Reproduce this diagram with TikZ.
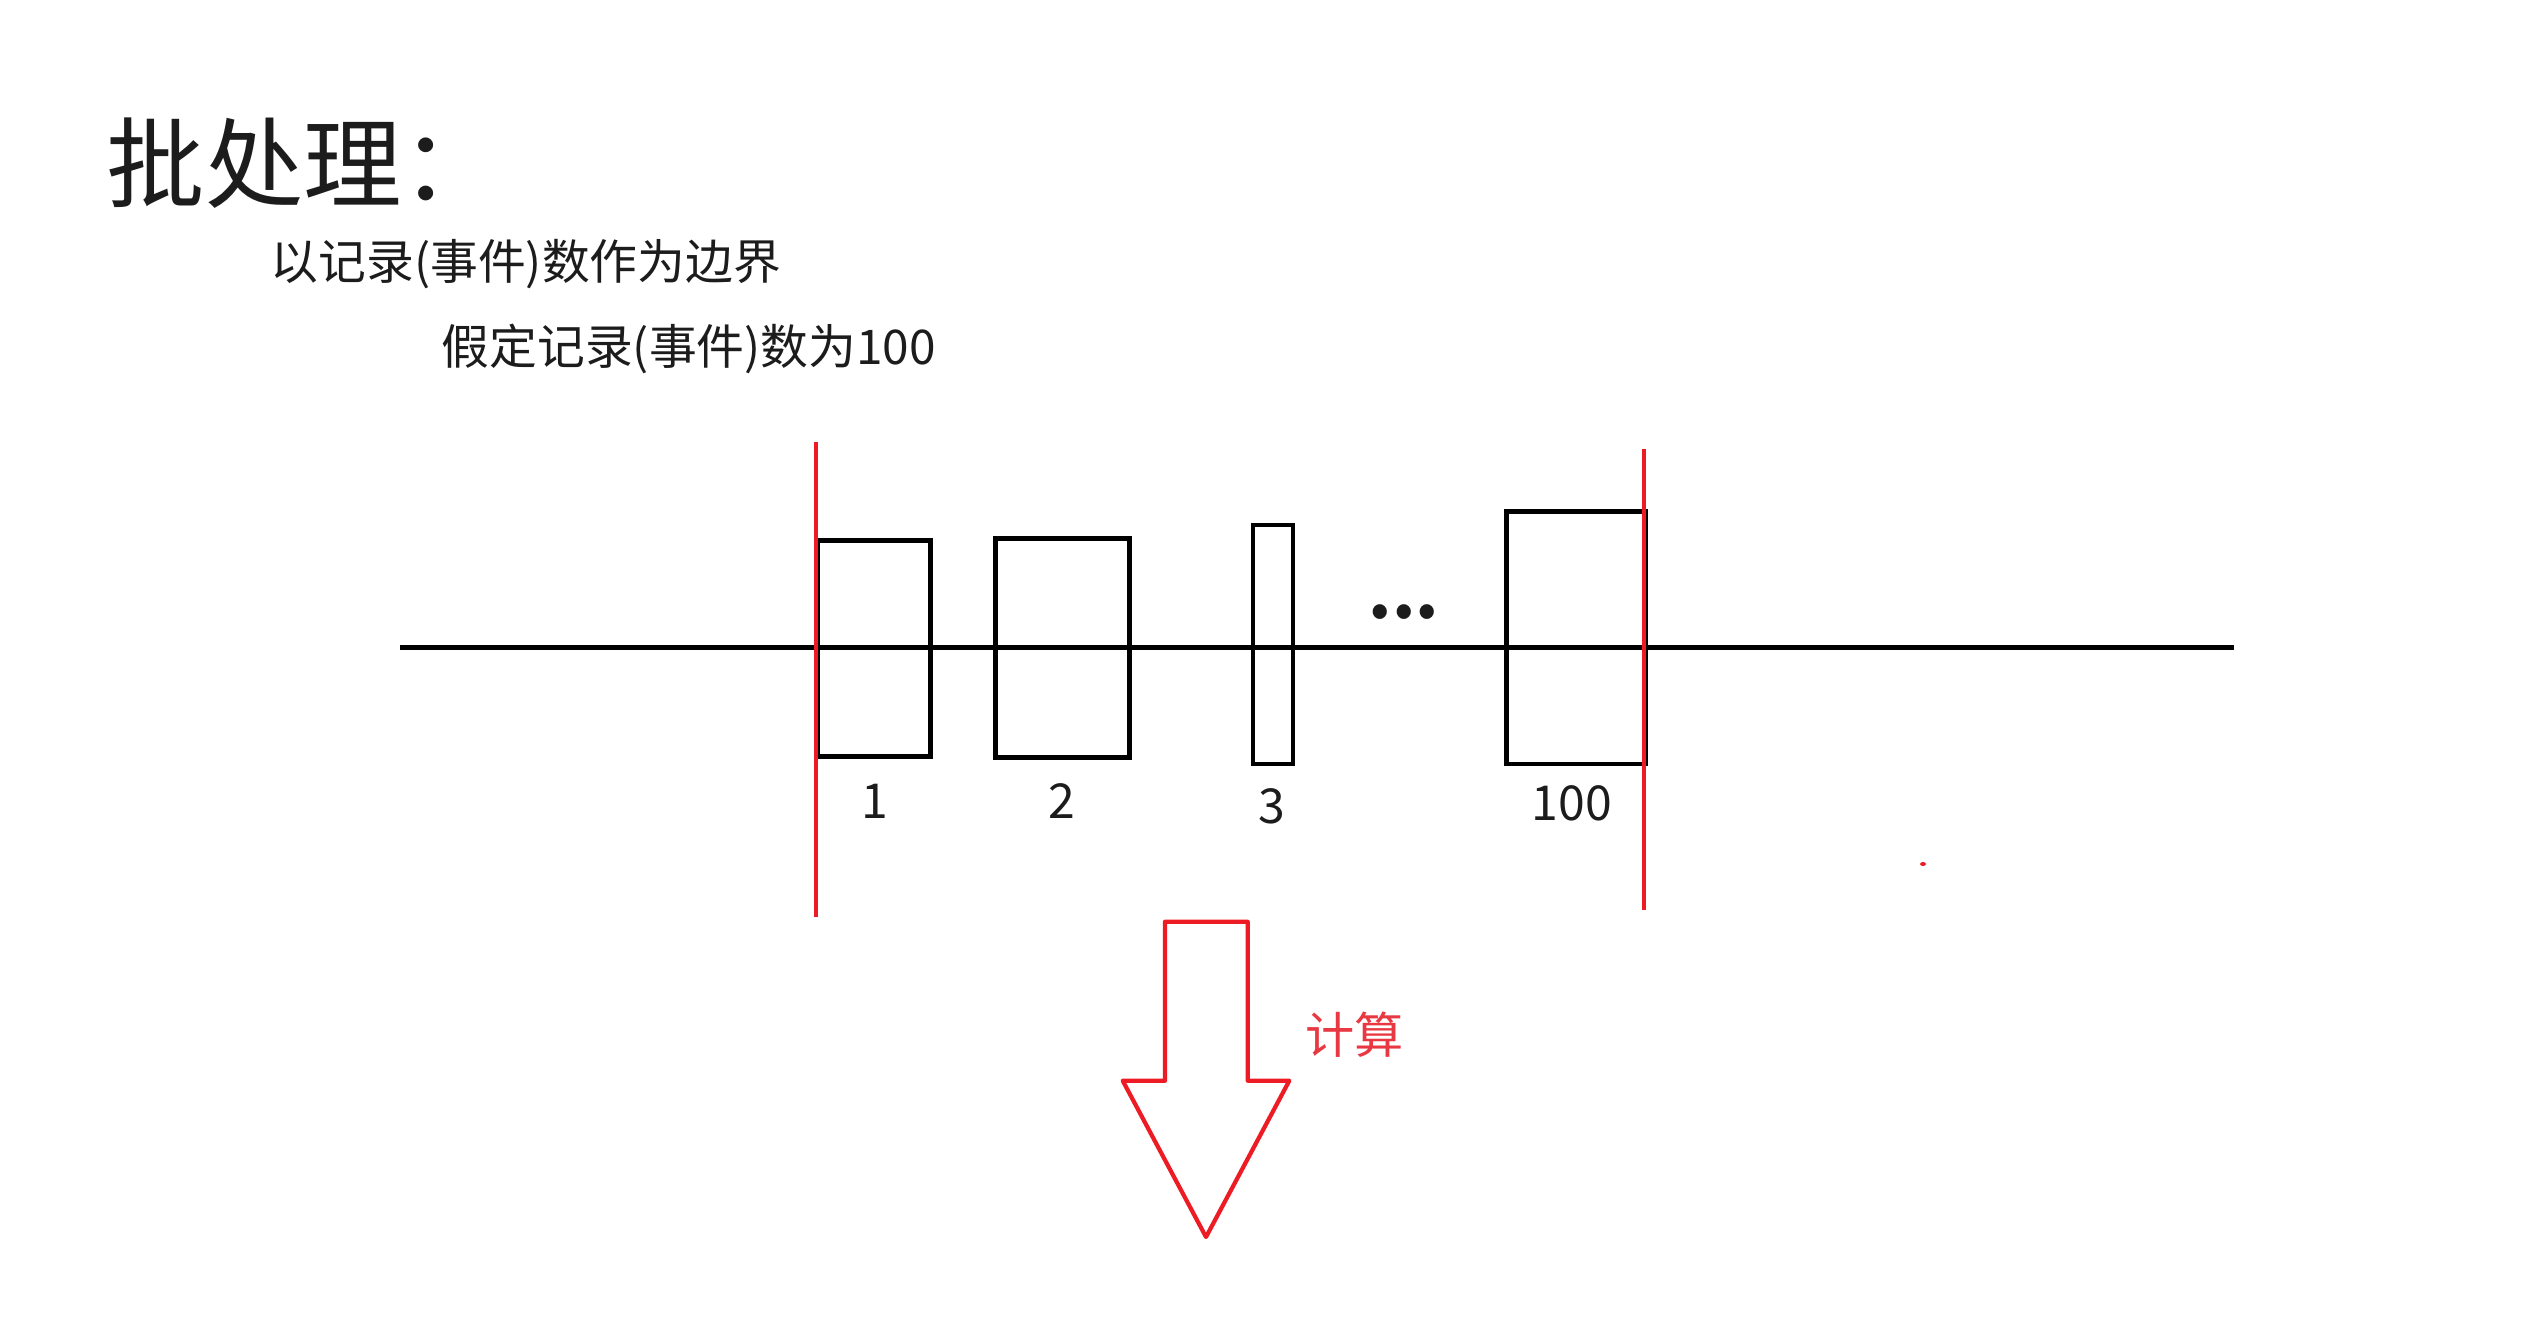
\documentclass[tikz,border=0pt]{standalone}
\usepackage{fontspec}
\usepackage{tikz}
\setmainfont{Noto Sans CJK SC}

\definecolor{penred}{RGB}{237,28,36}
\definecolor{inkred}{RGB}{232,56,66}
\definecolor{ink}{RGB}{28,28,28}

\tikzset{
	record/.style={draw=black,line width=1.3pt,inner sep=0pt},
	numlabel/.style={inner sep=0pt,text=ink,font=\fontsize{13.7pt}{16pt}\selectfont},
	bound/.style={draw=penred,line width=1.05pt},
	axis/.style={draw=black,line width=1.35pt}
}

\begin{document}
\begin{tikzpicture}
	\useasboundingbox (0,0) rectangle (25.38,13.21);
	% titles
	\node[inner sep=0pt,anchor=west,text=ink,font=\fontsize{28pt}{32pt}\selectfont](title)at(1.06,11.58){批处理：};
	\node[inner sep=0pt,anchor=west,text=ink,font=\fontsize{13.6pt}{16pt}\selectfont](rule)at(2.70,10.57){以记录(事件)数作为边界};
	\node[inner sep=0pt,anchor=west,text=ink,font=\fontsize{13.6pt}{16pt}\selectfont](assume)at(4.41,9.725){假定记录(事件)数为100};

	% time line
	\coordinate(lstart)at(4.00,6.733);
	\coordinate(lend)at(22.34,6.733);
	\draw[axis](lstart)--(lend);

	% records
	\node[record,minimum width=1.12cm,minimum height=2.16cm](box1)at(8.742,6.727){};
	\node[record,minimum width=1.34cm,minimum height=2.19cm](box2)at(10.624,6.730){};
	\node[record,minimum width=0.40cm,minimum height=2.39cm](box3)at(12.728,6.767){};
	\node[record,minimum width=1.395cm,minimum height=2.527cm](box100)at(15.763,6.833){};
	\node[inner sep=0pt,anchor=base,text=ink,font=\fontsize{19pt}{22pt}\selectfont\bfseries](gap)at(14.04,7.03){...};

	\node[numlabel](lab1)at(8.745,5.20){1};
	\node[numlabel](lab2)at(10.62,5.20){2};
	\node[numlabel](lab3)at(12.72,5.15){3};
	\node[numlabel](lab100)at(15.72,5.18){100};

	% batch boundaries
	\coordinate(ltop)at(8.16,8.79);
	\coordinate(lbot)at(8.16,4.04);
	\coordinate(rtop)at(16.44,8.72);
	\coordinate(rbot)at(16.44,4.11);
	\draw[bound](ltop)--(lbot);
	\draw[bound](rtop)--(rbot);

	% compute arrow
	\draw[penred,line width=1.2pt,line join=round](11.65,3.993)--(12.477,3.993)--(12.477,2.403)--(12.893,2.403)
		--(12.06,0.84)--(11.227,2.403)--(11.65,2.403)--cycle;
	\node[inner sep=0pt,text=inkred,font=\fontsize{14pt}{16pt}\selectfont](calc)at(13.545,2.865){计算};

	\fill[penred](19.23,4.57) ellipse [x radius=0.03,y radius=0.02];
\end{tikzpicture}
\end{document}
